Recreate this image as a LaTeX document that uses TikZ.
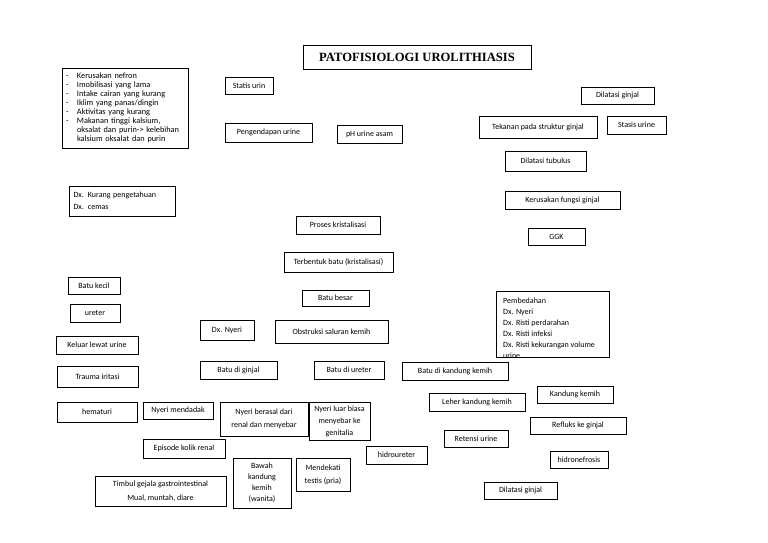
\documentclass[tikz,border=0pt]{standalone}
\usepackage{fontspec}
\setmainfont{Carlito}
\newfontfamily\titlefont{Liberation Serif}
\tikzset{
  bx/.style={draw=black, line width=0.8pt, inner sep=0pt, align=center,
    font=\fontsize{8}{11}\selectfont},
  lbx/.style={bx, align=left},
  ttl/.style={draw=black, line width=0.9pt, inner sep=0pt,
    font=\titlefont\bfseries\fontsize{12.6}{14}\selectfont}
}
\newcommand\bx[7][]{\node[bx,minimum width={(#5-#3)*1pt},minimum height={(#6-#4)*1pt},#1] (#2) at ({(#3+#5)/2},{(#4+#6)/2}) {#7};}
\newcommand\dsh{\makebox[11pt][l]{-}}
\newcommand\ind{\hspace*{11pt}}
\begin{document}
\begin{tikzpicture}[x=1pt,y=-1pt]
\useasboundingbox[fill=white] (0,0) rectangle (768,543);
% title
\bx[ttl]{title}{303}{45}{531}{69}{PATOFISIOLOGI UROLITHIASIS}
% left list
\bx[lbx,text width=118pt,font=\fontsize{8.3}{9}\selectfont]{causes}{62}{68}{188}{148}{\dsh Kerusakan nefron\\\dsh Imobilisasi yang lama\\\dsh Intake cairan yang kurang\\\dsh Iklim yang panas/dingin\\\dsh Aktivitas yang kurang\\\dsh Makanan tinggi kalsium,\\\ind oksalat dan purin-> kelebihan\\\ind kalsium oksalat dan purin}
\bx{statis}{225}{77}{273}{94}{Statis urin}
\bx{pengendapan}{225}{123}{312}{142}{Pengendapan urine}
\bx{ph}{337}{125}{402}{143}{pH urine asam}
\bx{dilgin1}{581}{87}{654}{104}{Dilatasi ginjal}
\bx{tekanan}{479}{116}{597}{138}{Tekanan pada struktur ginjal}
\bx{stasis}{607}{116}{666}{134}{Stasis urine}
\bx{tubulus}{505}{151}{586}{171}{Dilatasi tubulus}
\bx[lbx,text width=97pt,font=\fontsize{8}{12.5}\selectfont]{dxkurang}{69}{186}{175}{216}{Dx. Kurang pengetahuan\\Dx. cemas}
\bx{proses}{296}{216}{380}{234}{Proses kristalisasi}
\bx{fungsi}{505}{191}{620}{209}{Kerusakan fungsi ginjal}
\bx{ggk}{528}{228}{585}{245}{GGK}
\bx{terbentuk}{284}{252}{393}{272}{Terbentuk batu (kristalisasi)}
\bx{besar}{302}{290}{369}{306}{Batu besar}
% pembedahan box (text clipped)
\bx{pembedahan}{496}{291}{609}{357}{}
\begin{scope}
\clip (pembedahan.south west) rectangle (pembedahan.north east);
\node[anchor=north west, align=left, inner sep=0pt, font=\fontsize{8}{11}\selectfont] (pembtext) at (503,298) {Pembedahan\\Dx. Nyeri\\Dx. Risti perdarahan\\Dx. Risti infeksi\\Dx. Risti kekurangan volume\\urine};
\end{scope}
\bx{kecil}{68}{277}{120}{294}{Batu kecil}
\bx{ureter}{70}{304}{120}{322}{ureter}
\bx{keluar}{56}{336}{138}{354}{Keluar lewat urine}
\bx{trauma}{57}{366}{138}{387}{Trauma iritasi}
\bx{dxnyeri}{200}{320}{254}{340}{Dx. Nyeri}
\bx{obstruksi}{275}{320}{388}{343}{Obstruksi saluran kemih}
\bx{bginjal}{200}{361}{277}{379}{Batu di ginjal}
\bx{bureter}{314}{361}{384}{379}{Batu di ureter}
\bx{bkandung}{402}{362}{508}{380}{Batu di kandung kemih}
\bx{leher}{429}{393}{525}{411}{Leher kandung kemih}
\bx{kandung}{537}{386}{613}{403}{Kandung kemih}
\bx{refluks}{530}{417}{626}{434}{Refluks ke ginjal}
\bx{retensi}{444}{430}{508}{447}{Retensi urine}
\bx{hidronef}{550}{451}{608}{468}{hidronefrosis}
\bx{hidrour}{366}{446}{427}{464}{hidroureter}
\bx{dilgin2}{484}{482}{557}{499}{Dilatasi ginjal}
\bx{hematuri}{57}{402}{137}{422}{hematuri}
\bx{mendadak}{143}{402}{213}{419}{Nyeri mendadak}
\bx[font=\fontsize{8}{13}\selectfont]{berasal}{220}{402}{308}{436}{Nyeri berasal dari\\renal dan menyebar}
\bx[font=\fontsize{8}{12}\selectfont]{luarbiasa}{309}{402}{370}{440}{Nyeri luar biasa\\menyebar ke\\genitalia}
\bx{kolik}{143}{439}{225}{458}{Episode kolik renal}
\bx[font=\fontsize{8}{11}\selectfont]{bawah}{233}{458}{291}{508}{Bawah\\kandung\\kemih\\(wanita)}
\bx[font=\fontsize{8}{13}\selectfont]{testis}{296}{458}{350}{491}{Mendekati\\testis (pria)}
\bx[font=\fontsize{8}{13.5}\selectfont]{gastro}{95}{476}{226}{506}{Timbul gejala gastrointestinal\\Mual, muntah, diare}
\end{tikzpicture}
\end{document}
